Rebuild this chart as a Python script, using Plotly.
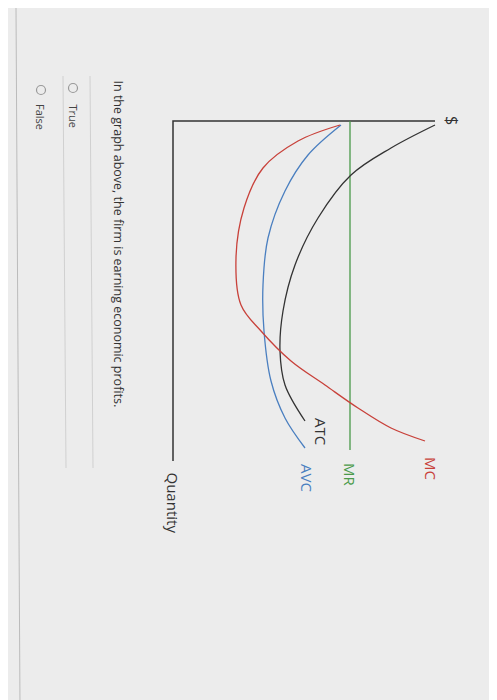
import plotly.graph_objects as go

# The photo is rotated 90 degrees clockwise, so the curves are kept in
# picture coordinates (x to the right, y going down the page).
mc_x = [332, 290, 255, 236, 228, 233, 253, 283, 317, 350, 383, 417]
mc_y = [117, 133, 160, 200, 250, 297, 323, 353, 377, 400, 420, 433]

avc_x = [333, 300, 277, 260, 255, 256, 263, 277, 297]
avc_y = [117, 147, 183, 230, 277, 323, 373, 410, 440]

atc_x = [427, 383, 343, 310, 287, 275, 272, 277, 297]
atc_y = [117, 140, 167, 210, 257, 303, 343, 377, 413]

mr_x = [342, 342]
mr_y = [113, 442]

axis_x = [427, 165, 165]
axis_y = [113, 113, 453]

fig = go.Figure()

fig.add_scatter(x=axis_x, y=axis_y, mode="lines", line=dict(color="#333333", width=1.5))
fig.add_scatter(x=mr_x, y=mr_y, mode="lines", line=dict(color="#4a9a4a", width=1.3))
fig.add_scatter(x=atc_x, y=atc_y, mode="lines", line=dict(color="#333333", width=1.3, shape="spline"))
fig.add_scatter(x=avc_x, y=avc_y, mode="lines", line=dict(color="#4a7fc0", width=1.3, shape="spline"))
fig.add_scatter(x=mc_x, y=mc_y, mode="lines", line=dict(color="#c8413a", width=1.3, shape="spline"))

# radio buttons
fig.add_scatter(x=[65, 33], y=[80, 82], mode="markers",
                marker=dict(symbol="circle-open", size=9, color="#999999", line=dict(width=1.2)))

# faint separator lines of the quiz page
for gx in [55, 82]:
    fig.add_shape(type="line", x0=gx, x1=gx + 3, y0=68, y1=460, line=dict(color="#d0d0d0", width=1))
fig.add_shape(type="line", x0=8, x1=12, y0=0, y1=700, line=dict(color="#bbbbbb", width=1))

labels = [
    ("$", 444, 112, "#333333", 16),
    ("MC", 423, 460, "#c8413a", 15),
    ("MR", 342, 466, "#4a9a4a", 15),
    ("ATC", 313, 423, "#333333", 15),
    ("AVC", 299, 470, "#4a7fc0", 15),
    ("Quantity", 165, 462, "#333333", 15),
    ("In the graph above, the firm is earning economic profits.", 110, 70, "#333333", 12.5),
    ("True", 65, 94, "#444444", 11),
    ("False", 33, 94, "#444444", 11),
]
for text, tx, ty, col, size in labels:
    anchor = "middle" if text in ("$", "MC", "MR", "ATC", "AVC") else "top"
    fig.add_annotation(x=tx, y=ty, text=text, showarrow=False, textangle=90,
                       xanchor="center", yanchor=anchor,
                       font=dict(color=col, size=size, family="Open Sans"))

fig.update_layout(
    width=497, height=700, showlegend=False,
    margin=dict(l=0, r=0, t=0, b=0),
    paper_bgcolor="#ececec", plot_bgcolor="#ececec",
    xaxis=dict(range=[0, 497], visible=False),
    yaxis=dict(range=[700, 0], visible=False),
)

fig.write_html("out.html")
